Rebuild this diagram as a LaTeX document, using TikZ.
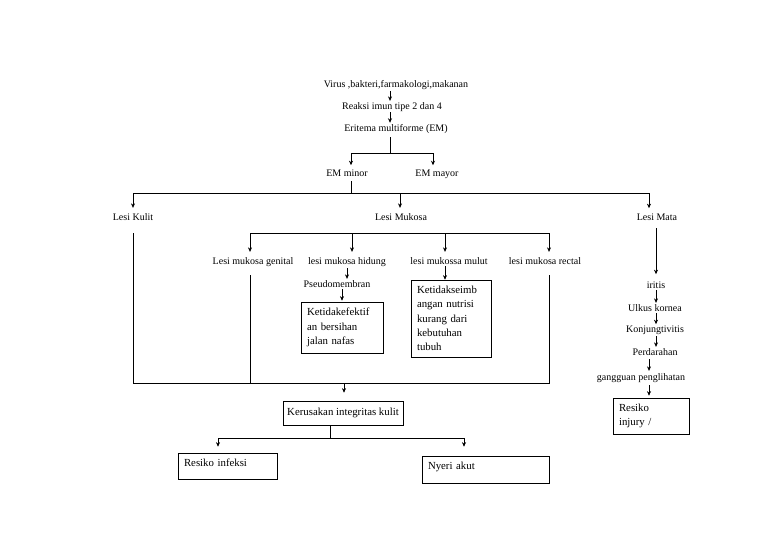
\documentclass[tikz,border=0pt]{standalone}
\usepackage{fontspec}
\setmainfont{Liberation Serif}
\usetikzlibrary{arrows.meta}
\begin{document}
\begin{tikzpicture}[x=1pt,y=-1pt,
  lbl/.style={inner sep=0pt, anchor=base, font=\fontsize{10}{14}\selectfont},
  bx/.style={draw, line width=0.6pt, inner ysep=0pt, inner xsep=6pt, align=left, font=\fontsize{10.8}{14.3}\selectfont},
  ln/.style={line width=0.6pt},
  ar/.style={ln, -{Stealth[length=4.5pt,width=4pt]}}]
\useasboundingbox[fill=white] (0,0) rectangle (768,543);

% ---- top chain
\node[lbl] (virus)   at (396,88)  {Virus ,bakteri,farmakologi,makanan};
\node[lbl] (reaksi)  at (392,109) {Reaksi imun tipe 2 dan 4};
\node[lbl] (eritema) at (396,131) {Eritema multiforme (EM)};
\node[lbl] (emminor) at (347,176) {EM minor};
\node[lbl] (emmayor) at (437,176) {EM mayor};

% ---- level 2
\node[lbl] (kulit)  at (133,220) {Lesi Kulit};
\node[lbl] (mukosa) at (401,220) {Lesi Mukosa};
\node[lbl] (mata)   at (657,220) {Lesi Mata};

% ---- mucosa level
\node[lbl] (genital) at (253,264) {Lesi mukosa genital};
\node[lbl] (hidung)  at (347,264) {lesi mukosa hidung};
\node[lbl] (mulut)   at (449,264) {lesi mukossa mulut};
\node[lbl] (rectal)  at (545,264) {lesi mukosa rectal};
\node[lbl] (pseudo)  at (337,287) {Pseudomembran};

\node[bx, minimum width=82pt, minimum height=51pt, text width=70pt] (bersihan) at (342,327.5)
  {Ketidakefektif\\an bersihan\\jalan nafas};
\node[bx, minimum width=80pt, minimum height=77pt, text width=68pt] (nutrisi) at (451,318.5)
  {Ketidakseimb\\angan nutrisi\\kurang dari\\kebutuhan\\tubuh};

% ---- eye column
\node[lbl] (iritis)   at (656,288) {iritis};
\node[lbl] (ulkus)    at (655,311) {Ulkus kornea};
\node[lbl] (konj)     at (655,332) {Konjungtivitis};
\node[lbl] (perd)     at (655,355) {Perdarahan};
\node[lbl] (gangguan) at (641,380) {gangguan penglihatan};
\node[bx, minimum width=76pt, minimum height=36pt, text width=64pt] (injury) at (651,416)
  {Resiko\\injury /};

% ---- bottom
\node[bx, align=center, inner xsep=2pt, minimum width=120pt, minimum height=24pt] (kerusakan) at (343,413)
  {Kerusakan integritas kulit};
\node[bx, minimum width=99pt, minimum height=26pt, text width=87pt, text depth=7pt] (infeksi) at (227.5,466)
  {Resiko infeksi};
\node[bx, minimum width=127pt, minimum height=27pt, text width=115pt, text depth=7pt] (nyeri) at (485.5,469.5)
  {Nyeri akut};

% ---- connectors: top chain
\draw[ar, shorten <=1pt, shorten >=1pt] ([xshift=-6pt]virus.south) -- ([xshift=-2pt]reaksi.north);
\draw[ar, shorten <=1pt, shorten >=1pt] ([xshift=-2pt]reaksi.south) -- ([xshift=-6pt]eritema.north);
\coordinate (e1) at (390,153);
\draw[ln, shorten <=4pt] ([xshift=-6pt]eritema.south) -- (e1);
\draw[ar, shorten >=4pt] (e1) -| ([xshift=4pt]emminor.north);
\draw[ar, shorten >=4pt] (e1) -| ([xshift=-4pt]emmayor.north);

% ---- EM minor -> lesions
\coordinate (e2) at (351,193);
\draw[ln, shorten <=5pt] ([xshift=4pt]emminor.south) -- (e2);
\draw[ar, shorten >=5pt] (e2) -| (kulit.north);
\draw[ar, shorten >=5pt] (e2) -| ([xshift=-1pt]mukosa.north);
\draw[ar, shorten >=5pt] (e2) -| ([xshift=-8pt]mata.north);

% ---- mucosa branches
\coordinate (m1) at (401,233);
\draw[ar, shorten >=5pt] (m1) -| ([xshift=-3pt]genital.north);
\draw[ar, shorten >=5pt] (m1) -| ([xshift=4pt]rectal.north);
\draw[ar, shorten >=5pt] ([xshift=5pt]hidung.north |- m1) -- ([xshift=5pt]hidung.north);
\draw[ar, shorten >=5pt] ([xshift=-4pt]mulut.north |- m1) -- ([xshift=-4pt]mulut.north);

\draw[ar, shorten <=2pt, shorten >=1pt] (hidung.south) -- (hidung.south |- pseudo.north);
\draw[ar, shorten <=2pt, shorten >=1pt] ([xshift=5pt]pseudo.south) -- ([xshift=5pt]pseudo.south |- bersihan.north);
\draw[ar, shorten <=2pt] ([xshift=-4pt]mulut.south) -- ([xshift=-4pt]mulut.south |- nutrisi.north);

% ---- collection to Kerusakan
\coordinate (b1) at (344,383);
\draw[ln, shorten <=13pt, shorten >=11pt] (kulit.south) -- (kulit.south |- b1)
  -- ([xshift=4pt]rectal.south |- b1) -- ([xshift=4pt]rectal.south);
\draw[ln, shorten <=9pt] ([xshift=-3pt]genital.south) -- ([xshift=-3pt]genital.south |- b1);
\draw[ar, shorten >=8pt] (b1) -- (b1 |- kerusakan.north);

% ---- Kerusakan -> outcomes
\coordinate (k1) at (330,438);
\draw[ln] (k1 |- kerusakan.south) -- (k1);
\draw[ar, shorten >=6pt] (k1) -| ([xshift=-9.5pt]infeksi.north);
\draw[ar, shorten >=9pt] (k1) -| ([xshift=-21.5pt]nyeri.north);

% ---- eye chain
\draw[ar, shorten <=8pt, shorten >=7pt] ([xshift=-1pt]mata.south) -- (iritis.north);
\draw[ar, shorten <=2pt, shorten >=1pt] (iritis.south) -- (iritis.south |- ulkus.north);
\draw[ar, shorten <=2pt, shorten >=1pt] (iritis.south |- ulkus.south) -- (iritis.south |- konj.north);
\draw[ar, shorten <=2pt, shorten >=1pt] (iritis.south |- konj.south) -- (iritis.south |- perd.north);
\draw[ar, shorten <=4pt, shorten >=2pt] ([xshift=-6pt]perd.south) -- ([xshift=8pt]gangguan.north);
\draw[ar, shorten <=3pt, shorten >=2pt] ([xshift=8pt]gangguan.south) -- ([xshift=8pt]gangguan.south |- injury.north);
\end{tikzpicture}
\end{document}
